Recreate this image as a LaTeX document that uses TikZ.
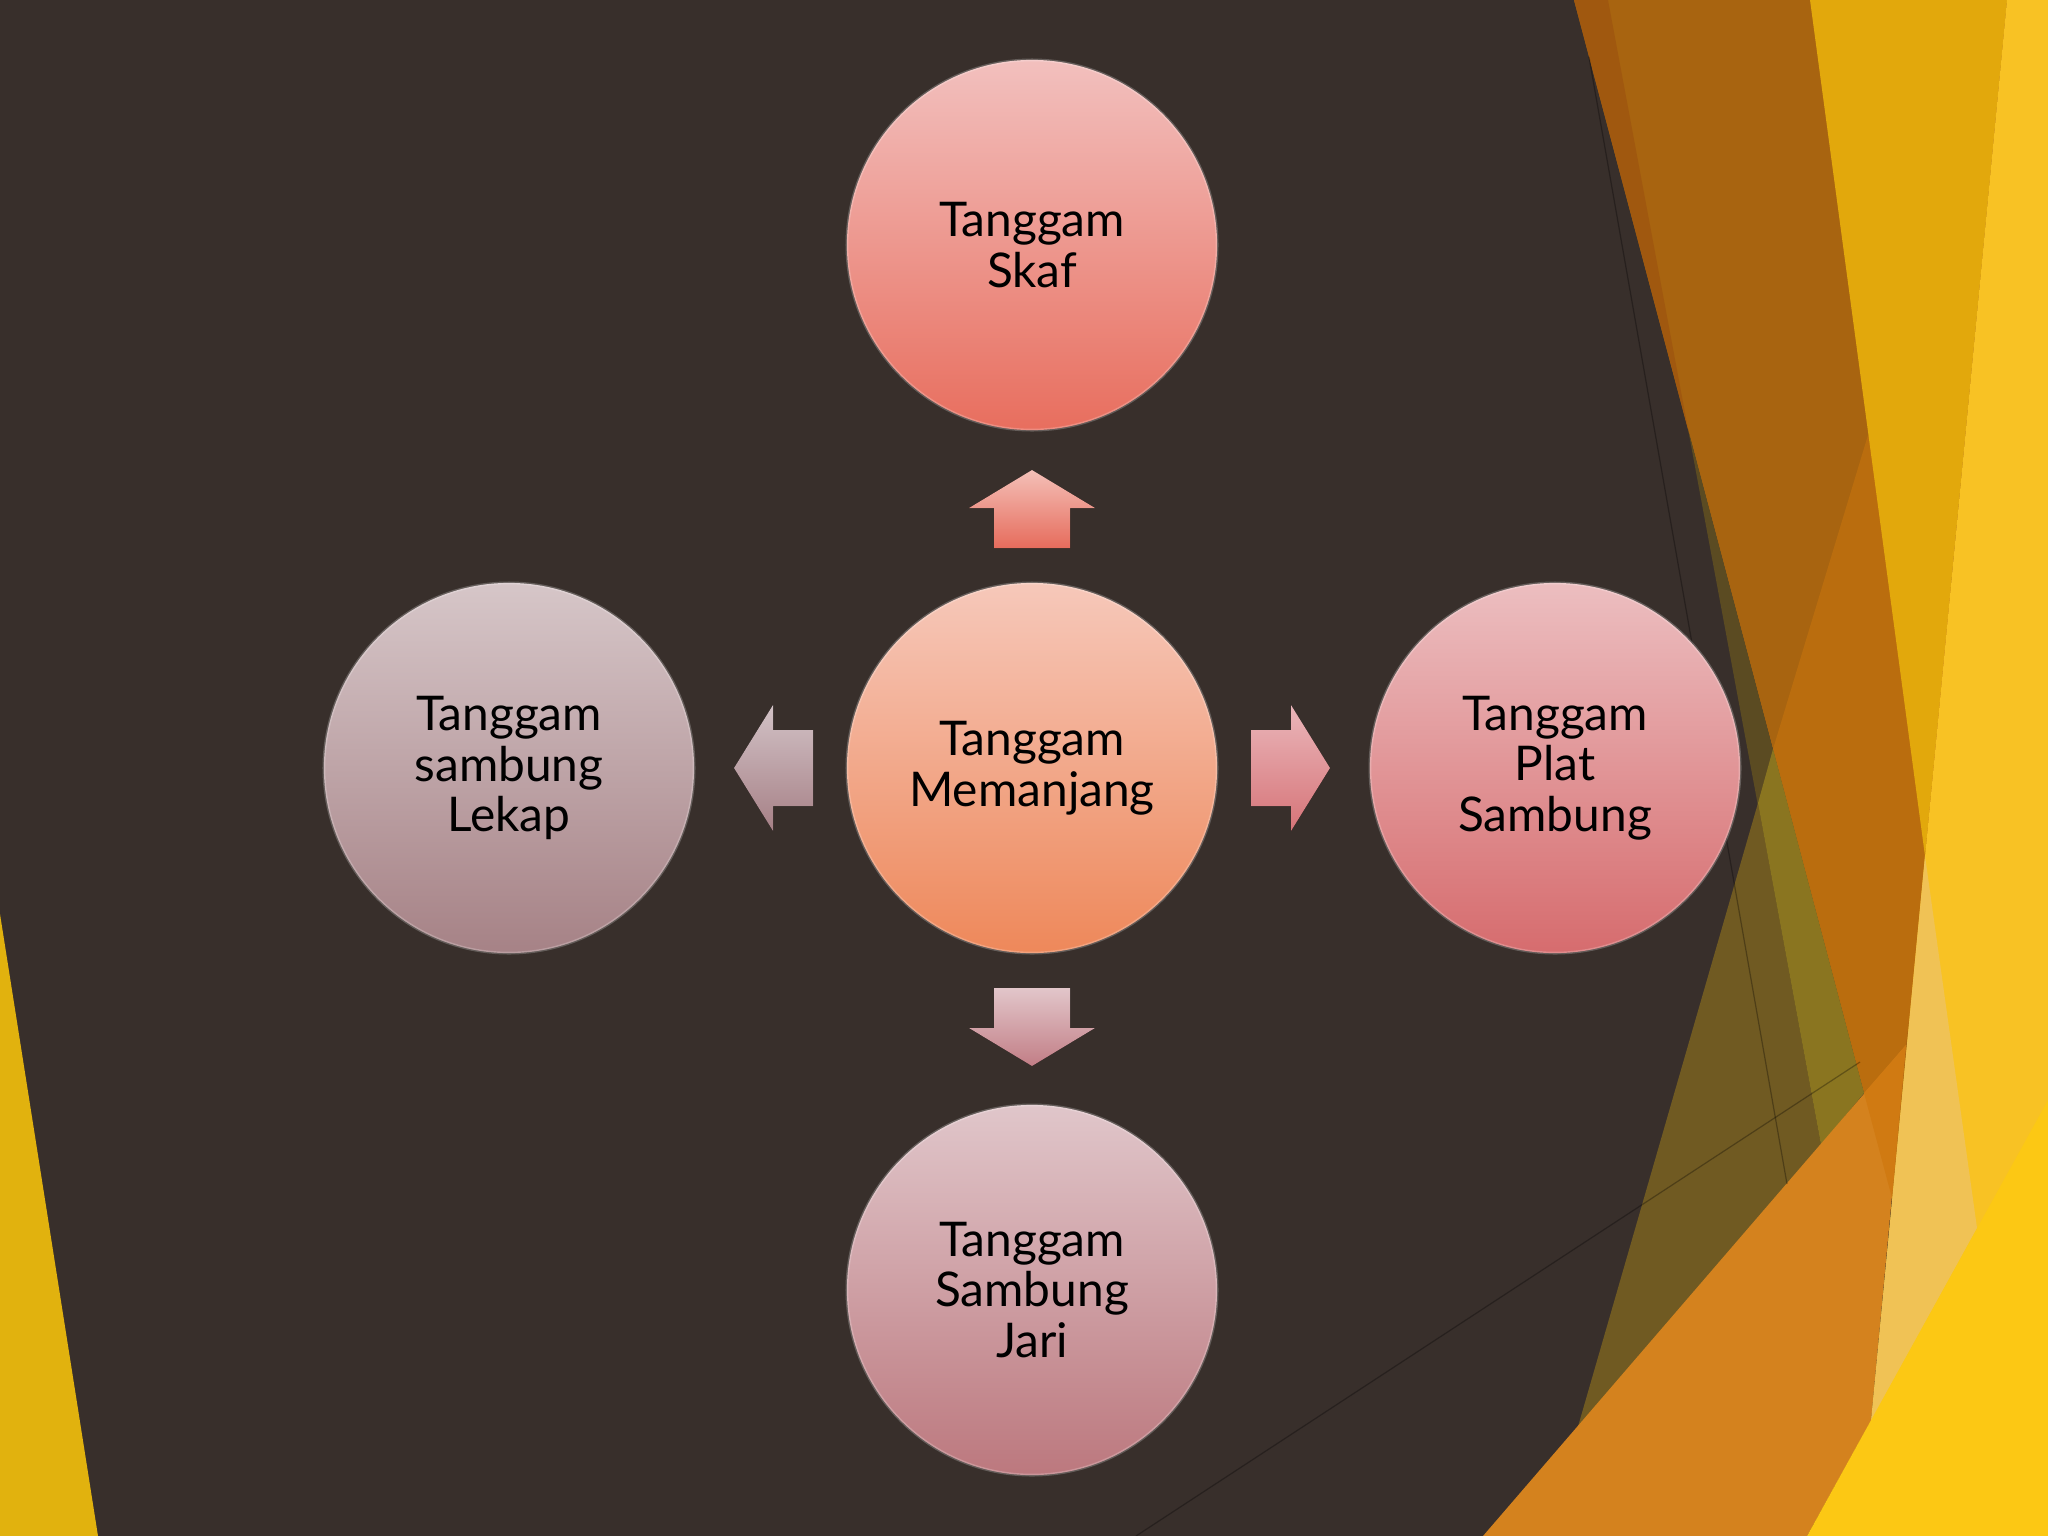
\documentclass[tikz,border=0pt]{standalone}
\usepackage{fontspec}
\setmainfont{Lato}
\definecolor{bg}{RGB}{56,47,43}
\definecolor{yelL}{RGB}{225,178,14}
\definecolor{oraA}{RGB}{168,100,16}
\definecolor{brownS}{RGB}{160,88,15}
\definecolor{oliveS}{RGB}{91,75,34}
\definecolor{oraB}{RGB}{186,109,14}
\definecolor{oliveM}{RGB}{112,90,34}
\definecolor{oliveB}{RGB}{138,117,32}
\definecolor{yelA}{RGB}{226,168,12}
\definecolor{yelB}{RGB}{248,194,36}
\definecolor{oraBand}{RGB}{212,130,30}
\definecolor{oraC}{RGB}{208,122,18}
\definecolor{shard}{RGB}{240,194,85}
\definecolor{yelC}{RGB}{252,200,20}
% circles
\definecolor{topT}{RGB}{242,192,190}\definecolor{topB}{RGB}{232,110,94}
\definecolor{cenT}{RGB}{246,200,186}\definecolor{cenB}{RGB}{238,136,90}
\definecolor{lefT}{RGB}{214,198,200}\definecolor{lefB}{RGB}{166,130,134}
\definecolor{rigT}{RGB}{236,190,192}\definecolor{rigB}{RGB}{214,108,110}
\definecolor{botT}{RGB}{224,198,202}\definecolor{botB}{RGB}{188,120,126}
% arrows
\definecolor{aupT}{RGB}{244,192,184}\definecolor{aupB}{RGB}{230,108,92}
\definecolor{alfT}{RGB}{210,194,198}\definecolor{alfB}{RGB}{166,128,134}
\definecolor{artT}{RGB}{234,182,186}\definecolor{artB}{RGB}{214,116,120}
\definecolor{adnT}{RGB}{226,198,202}\definecolor{adnB}{RGB}{194,126,134}
\begin{document}
\begin{tikzpicture}[x=0.01cm,y=-0.01cm,
  circ/.style={circle, minimum size=3.7cm, inner sep=0pt, align=center,
    font=\fontsize{13.6}{14.4}\selectfont, text=black,
    draw=white, draw opacity=0.22, line width=0.8pt},
  thinl/.style={draw=black, draw opacity=0.3, line width=0.35pt}]
\useasboundingbox (0,0) rectangle (2048,1536);
\fill[bg] (0,0) rectangle (2048,1536);
% left decoration
\fill[yelL] (0,914) -- (98,1536) -- (0,1536) -- cycle;
% right decoration
\fill[oraA] (1574,0) -- (2048,0) -- (2048,1536) -- (1892,1198) -- cycle;
\fill[brownS] (1574,0) -- (1608,0) -- (1688,429) -- cycle;
\fill[oliveS] (1688,429) -- (1821,1145) -- (1864,1093) -- cycle;
\fill[oraB] (1868,435) -- (1773,749) -- (1864,1093) -- (1906,1045) -- (1960,600) -- cycle;
\fill[oliveM] (1758,803) -- (1577,1430) -- (1821,1145) -- cycle;
\fill[oliveB] (1758,803) -- (1773,749) -- (1864,1093) -- (1821,1145) -- cycle;
\fill[yelA] (1810,0) -- (2007,0) -- (1925,856) -- cycle;
\fill[yelB] (2007,0) -- (2048,0) -- (2048,1536) -- (1860,1536) -- cycle;
\fill[oraBand] (1483,1536) -- (1906,1045) -- (1871,1421) -- (1807,1536) -- cycle;
\fill[oraC] (1864,1093) -- (1906,1045) -- (1892,1198) -- cycle;
\fill[shard] (1925,856) -- (1977,1228) -- (1871,1421) -- cycle;
\fill[yelC] (1807,1536) -- (2048,1100) -- (2048,1536) -- cycle;
\draw[thinl] (1589,57) -- (1787,1184);
\draw[thinl] (1136,1536) -- (1860,1062);
% circles
\node[circ, top color=cenT, bottom color=cenB] (c) at (1032,768) {Tanggam\\Memanjang};
\node[circ, top color=topT, bottom color=topB] (t) at (1032,245) {Tanggam\\Skaf};
\node[circ, top color=lefT, bottom color=lefB] (l) at (509,768) {Tanggam\\sambung\\Lekap};
\node[circ, top color=rigT, bottom color=rigB] (r) at (1555,768) {Tanggam\\Plat\\Sambung};
\node[circ, top color=botT, bottom color=botB] (b) at (1032,1290) {Tanggam\\Sambung\\Jari};
% block arrows
\begin{scope}[shift={(c.center)}]
\fill[top color=aupT, bottom color=aupB] (-38,-220) -- (-38,-260) -- (-63,-260) -- (0,-298) -- (63,-260) -- (38,-260) -- (38,-220) -- cycle;
\fill[top color=adnT, bottom color=adnB] (-38,220) -- (-38,260) -- (-63,260) -- (0,298) -- (63,260) -- (38,260) -- (38,220) -- cycle;
\fill[top color=alfT, bottom color=alfB] (-219,-38) -- (-259,-38) -- (-259,-63) -- (-298,0) -- (-259,63) -- (-259,38) -- (-219,38) -- cycle;
\fill[top color=artT, bottom color=artB] (219,-38) -- (259,-38) -- (259,-63) -- (298,0) -- (259,63) -- (259,38) -- (219,38) -- cycle;
\end{scope}
\end{tikzpicture}
\end{document}
